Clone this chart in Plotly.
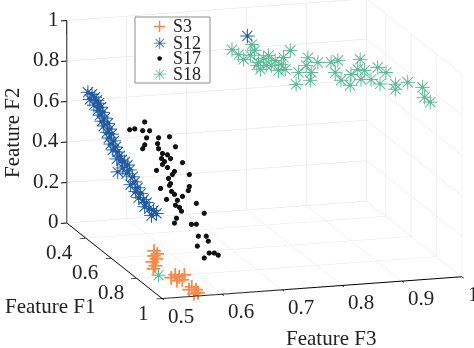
import plotly.graph_objects as go

# ---------------- data (Feature F1, Feature F3, Feature F2) ----------------
s3_f1 = [0.671, 0.680, 0.690, 0.696, 0.715, 0.723, 0.682,
         0.847, 0.850, 0.860, 0.847, 0.872, 0.853,
         0.949, 0.959, 0.976, 0.970, 0.937]
s3_f3 = [0.556, 0.554, 0.556, 0.548, 0.549, 0.544, 0.559,
         0.554, 0.560, 0.563, 0.557, 0.564, 0.546,
         0.560, 0.565, 0.558, 0.566, 0.558]
s3_f2 = [0.06, 0.04, 0.03, 0.02, 0.01, 0.00, 0.05,
         0.03, 0.02, 0.01, 0.00, 0.04, 0.02,
         0.02, 0.01, 0.00, 0.00, 0.00]

s12_f1 = [0.320, 0.352, 0.375, 0.336, 0.391, 0.406, 0.367, 0.422, 0.398, 0.438,
          0.414, 0.453, 0.430, 0.477, 0.445, 0.492, 0.469, 0.508, 0.484, 0.523,
          0.500, 0.539, 0.516, 0.555, 0.570, 0.547, 0.586, 0.609, 0.633, 0.594,
          0.555, 0.648, 0.625, 0.672, 0.688, 0.656, 0.711, 0.695, 0.734, 0.719,
          0.758, 0.781, 0.766, 0.805, 0.836, 0.859, 0.820, 0.490]
s12_f3 = [0.52] * 47 + [0.75]
s12_f2 = [0.677, 0.683, 0.680, 0.650, 0.673, 0.666, 0.637, 0.654, 0.628, 0.637,
          0.611, 0.616, 0.589, 0.602, 0.573, 0.581, 0.554, 0.564, 0.533, 0.538,
          0.511, 0.516, 0.490, 0.499, 0.487, 0.461, 0.475, 0.477, 0.474, 0.440,
          0.401, 0.457, 0.427, 0.435, 0.418, 0.388, 0.400, 0.373, 0.383, 0.355,
          0.365, 0.362, 0.334, 0.345, 0.350, 0.347, 0.317, 0.990]

s17_f1 = [0.391, 0.313, 0.273, 0.375, 0.430, 0.406, 0.500, 0.586, 0.391, 0.375,
          0.492, 0.633, 0.500, 0.531, 0.570, 0.594, 0.523, 0.547, 0.688, 0.531,
          0.570, 0.484, 0.625, 0.609, 0.742, 0.578, 0.594, 0.586, 0.742, 0.734,
          0.516, 0.602, 0.625, 0.688, 0.563, 0.648, 0.797, 0.633, 0.664, 0.680,
          0.859, 0.641, 0.625, 0.758, 0.797, 0.813, 0.875, 0.891, 0.805, 0.898,
          0.938, 0.969, 0.859]
s17_f3 = [0.60] * 53
s17_f2 = [0.548, 0.475, 0.451, 0.497, 0.524, 0.477, 0.524, 0.572, 0.435, 0.408,
          0.491, 0.546, 0.470, 0.462, 0.475, 0.468, 0.433, 0.430, 0.495, 0.408,
          0.412, 0.355, 0.420, 0.397, 0.463, 0.362, 0.345, 0.332, 0.404, 0.380,
          0.282, 0.310, 0.307, 0.328, 0.251, 0.289, 0.348, 0.257, 0.262, 0.251,
          0.330, 0.197, 0.165, 0.225, 0.245, 0.194, 0.225, 0.208, 0.141, 0.153,
          0.173, 0.178, 0.109]

s18_f1 = [0.416, 0.431, 0.459, 0.457, 0.474, 0.479, 0.496, 0.511, 0.503, 0.525,
          0.533, 0.544, 0.518, 0.562, 0.557, 0.584, 0.580, 0.591, 0.588, 0.606,
          0.634, 0.650, 0.643, 0.656, 0.676, 0.678, 0.698, 0.693, 0.709, 0.700,
          0.722, 0.741, 0.737, 0.755, 0.777, 0.777, 0.803, 0.835, 0.840, 0.853,
          0.442, 0.466, 0.485, 0.492, 0.470, 0.529, 0.875]
s18_f3 = [0.740, 0.748, 0.764, 0.762, 0.772, 0.774, 0.784, 0.792, 0.787, 0.799,
          0.804, 0.810, 0.796, 0.820, 0.817, 0.831, 0.829, 0.835, 0.834, 0.843,
          0.859, 0.867, 0.864, 0.871, 0.882, 0.883, 0.894, 0.891, 0.899, 0.895,
          0.907, 0.918, 0.915, 0.925, 0.936, 0.936, 0.951, 0.969, 0.971, 0.978,
          0.754, 0.767, 0.778, 0.781, 0.770, 0.802, 0.520]
s18_f2 = [0.888, 0.869, 0.929, 0.876, 0.847, 0.815, 0.889, 0.870, 0.843, 0.857,
          0.835, 0.932, 0.824, 0.831, 0.770, 0.912, 0.872, 0.842, 0.802, 0.897,
          0.908, 0.924, 0.862, 0.828, 0.811, 0.865, 0.947, 0.896, 0.897, 0.849,
          0.857, 0.842, 0.922, 0.904, 0.855, 0.830, 0.874, 0.861, 0.814, 0.795,
          0.850, 0.902, 0.871, 0.839, 0.831, 0.892, 0.050]

series_names = ["S3", "S12", "S17", "S18"]
series_colors = ["#F58A4B", "#1F5B9E", "#111111", "#5DB996"]

f1_ticks = [0.4, 0.6, 0.8, 1.0]
f1_labels = ["0.4", "0.6", "0.8", "1"]
f3_ticks = [0.5, 0.6, 0.7, 0.8, 0.9, 1.0]
f3_labels = ["0.5", "0.6", "0.7", "0.8", "0.9", "1"]
f2_ticks = [0, 0.2, 0.4, 0.6, 0.8, 1.0]
f2_labels = ["0", "0.2", "0.4", "0.6", "0.8", "1"]

F1_RANGE = [0.25, 1.0]
F3_RANGE = [0.5, 1.0]
F2_RANGE = [0.0, 1.0]

FONT = "Liberation Serif"
TXT = "#222222"

fig = go.Figure()

fig.add_trace(go.Scatter3d(x=s3_f1, y=s3_f3, z=s3_f2, mode="text",
                           text=["+"] * len(s3_f1), textposition="middle center",
                           name=series_names[0],
                           textfont=dict(color=series_colors[0], size=22, family="DejaVu Sans"),
                           showlegend=False, hoverinfo="skip"))
fig.add_trace(go.Scatter3d(x=s12_f1, y=s12_f3, z=s12_f2, mode="text",
                           text=["\u2733"] * len(s12_f1), textposition="middle center",
                           name=series_names[1],
                           textfont=dict(color=series_colors[1], size=20, family="DejaVu Sans"),
                           showlegend=False, hoverinfo="skip"))
fig.add_trace(go.Scatter3d(x=s17_f1, y=s17_f3, z=s17_f2, mode="markers",
                           marker=dict(color=series_colors[2], size=3, symbol="circle"),
                           name=series_names[2], showlegend=False, hoverinfo="skip"))
fig.add_trace(go.Scatter3d(x=s18_f1, y=s18_f3, z=s18_f2, mode="text",
                           text=["\u2733"] * len(s18_f1), textposition="middle center",
                           name=series_names[3],
                           textfont=dict(color=series_colors[3], size=20, family="DejaVu Sans"),
                           showlegend=False, hoverinfo="skip"))

axis_common = dict(showbackground=False, gridcolor="#e0e0e0", gridwidth=1,
                   showline=True, linecolor="black", linewidth=2,
                   ticks="outside", ticklen=6, tickcolor="black", tickwidth=2,
                   zeroline=False, showspikes=False, title=dict(text=""),
                   showticklabels=False)

# tick labels placed at the tick positions through the scene's own projection
tick_font = dict(family=FONT, size=21, color=TXT)
scene_ann = []
for v, lab in zip(f2_ticks, f2_labels):
    scene_ann.append(dict(x=F1_RANGE[0], y=F3_RANGE[0], z=v, text=lab, showarrow=False,
                          xanchor="right", yanchor="middle", xshift=-6, yshift=2, font=tick_font))
for v, lab in zip(f1_ticks, f1_labels):
    scene_ann.append(dict(x=v, y=F3_RANGE[0], z=F2_RANGE[0], text=lab, showarrow=False,
                          xanchor="right", yanchor="middle", xshift=-11, yshift=-14, font=tick_font))
for v, lab in zip(f3_ticks, f3_labels):
    scene_ann.append(dict(x=F1_RANGE[1], y=v, z=F2_RANGE[0], text=lab, showarrow=False,
                          xanchor="left", yanchor="middle", xshift=4, yshift=-17, font=tick_font))

eye_dir = (0.929, -0.2817, 0.2401)
k = 1.8
zs = 1.8
dc = (-0.012, -0.1605, -0.1415)
fig.update_layout(
    width=474, height=348,
    margin=dict(l=0, r=0, t=0, b=0),
    paper_bgcolor="white",
    showlegend=False,
    scene=dict(
        domain=dict(x=[0, 1], y=[0, 1]),
        xaxis=dict(range=F1_RANGE, tickvals=f1_ticks, **axis_common),
        yaxis=dict(range=F3_RANGE, tickvals=f3_ticks, **axis_common),
        zaxis=dict(range=F2_RANGE, tickvals=f2_ticks, **axis_common),
        aspectmode="manual",
        aspectratio=dict(x=1.05 * zs, y=1.0 * zs, z=0.666 * zs),
        camera=dict(eye=dict(x=eye_dir[0] * k + dc[0], y=eye_dir[1] * k + dc[1],
                             z=eye_dir[2] * k + dc[2]),
                    up=dict(x=0, y=0, z=1), center=dict(x=dc[0], y=dc[1], z=dc[2]),
                    projection=dict(type="orthographic")),
        bgcolor="white",
        annotations=scene_ann,
    ),
)

# axis titles
title_font = dict(family=FONT, size=21, color=TXT)
fig.add_annotation(text="Feature F2", x=12 / 474, y=1 - 133 / 348, xref="paper", yref="paper",
                   xanchor="center", yanchor="middle",
                   textangle=-90, showarrow=False, font=title_font)
fig.add_annotation(text="Feature F1", x=50 / 474, y=1 - 306 / 348, xref="paper", yref="paper",
                   xanchor="center", yanchor="middle", showarrow=False, font=title_font)
fig.add_annotation(text="Feature F3", x=331 / 474, y=1 - 338 / 348, xref="paper", yref="paper",
                   xanchor="center", yanchor="middle", showarrow=False, font=title_font)

# legend box
fig.add_shape(type="rect", xref="paper", yref="paper",
              x0=135 / 474, x1=210 / 474, y0=1 - 83 / 348, y1=1 - 17 / 348,
              line=dict(color="#8c8c8c", width=1), fillcolor="white")
leg_syms = ["+", "\u2733", "\u25CF", "\u2733"]
leg_sizes = [18, 16, 6, 16]
leg_y = [26, 43, 58, 74]
for nm, col, sym, sz, yy in zip(series_names, series_colors, leg_syms, leg_sizes, leg_y):
    fig.add_annotation(text=sym, x=159 / 474, y=1 - yy / 348, xref="paper", yref="paper",
                       xanchor="center", yanchor="middle",
                       showarrow=False, font=dict(family="DejaVu Sans", size=sz, color=col))
    fig.add_annotation(text=nm, x=171 / 474, y=1 - yy / 348, xref="paper", yref="paper",
                       xanchor="left", yanchor="middle", showarrow=False,
                       font=dict(family=FONT, size=18, color=TXT))

fig.write_html("out.html")
